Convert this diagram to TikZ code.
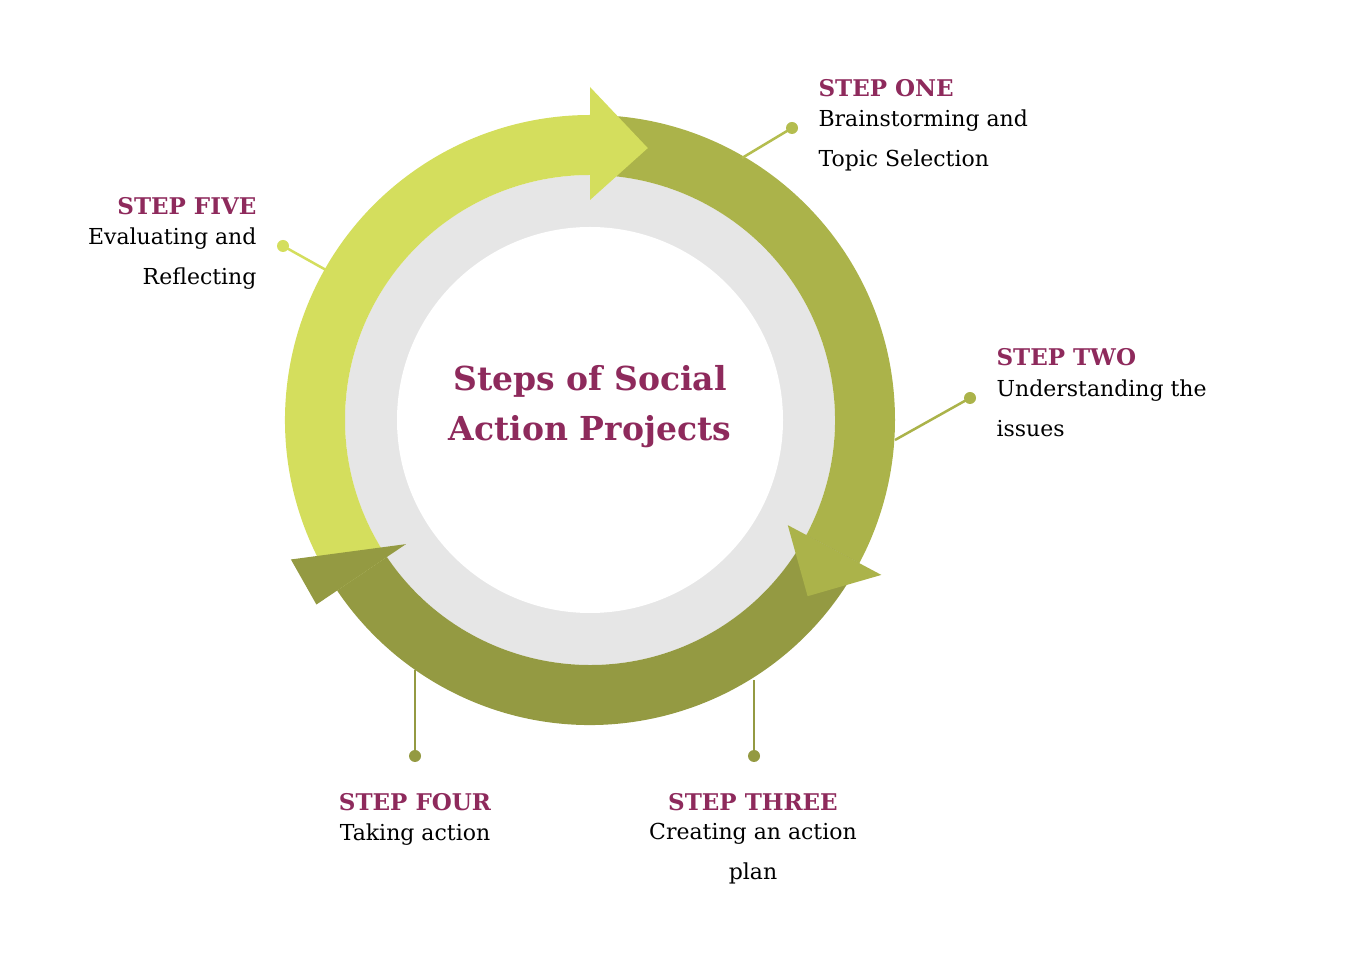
\documentclass[tikz,border=0pt]{standalone}
\usepackage{fontspec}
\setmainfont{DejaVu Serif}
\definecolor{cyel}{HTML}{D4DE5D}
\definecolor{coli}{HTML}{ABB34A}
\definecolor{cdrk}{HTML}{949A42}
\definecolor{cmar}{HTML}{8E2A5C}
\definecolor{cgry}{HTML}{E6E6E6}
\begin{document}
\begin{tikzpicture}[x=1pt,y=1pt,
  steptitle/.style={text=cmar,font=\fontsize{23}{26}\selectfont\bfseries},
  steptext/.style={font=\fontsize{22}{40}\selectfont},
  dotc/.style={circle,inner sep=0pt,minimum size=12pt},
  lead/.style={line width=2.5pt}]
\useasboundingbox (0,0) rectangle (1350,972);
\coordinate (c) at (590,552);
\def\ro{305}\def\ri{245}
% gray ring
\fill[cgry] (c) circle[radius=245];
\fill[white] (c) circle[radius=193];
% bodies
\fill[cyel] ([shift={(c)}]214:\ro) arc[start angle=214,end angle=90,radius=\ro] -- ([shift={(c)}]90:\ri) arc[start angle=90,end angle=214,radius=\ri] -- cycle;
\fill[coli] ([shift={(c)}]90:\ro) arc[start angle=90,end angle=-28,radius=\ro] -- ([shift={(c)}]-28:\ri) arc[start angle=-28,end angle=90,radius=\ri] -- cycle;
\fill[cdrk] ([shift={(c)}]-28:\ro) arc[start angle=-28,end angle=-146,radius=\ro] -- ([shift={(c)}]-146:\ri) arc[start angle=-146,end angle=-28,radius=\ri] -- cycle;
% heads
\fill[cyel] ([shift={(c)}]90:220) -- ([shift={(c)}]90:333) -- ([shift={(c)}]78:278) -- cycle;
\fill[coli] ([shift={(c)}]-28:224) -- ([shift={(c)}]-28:330) -- ([shift={(c)}]-39:280) -- cycle;
\fill[cdrk] ([shift={(c)}]-146:222) -- ([shift={(c)}]-146:330) -- ([shift={(c)}]-155:330) -- cycle;
% title
\node[text=cmar,font=\fontsize{33}{50}\selectfont\bfseries,align=center] (title) at (590,565) {Steps of Social\\Action Projects};
% leaders
\node[dotc,fill=cyel!85!black] (d1) at (792,844) {};
\coordinate (e1) at (742,814);
\draw[lead,cyel!85!black] (d1.center) -- (e1);
\node[dotc,fill=coli] (d2) at (970,574) {};
\coordinate (e2) at (895,532);
\draw[lead,coli] (d2.center) -- (e2);
\node[dotc,fill=cdrk] (d3) at (754,216) {};
\coordinate (e3) at (754,292);
\draw[lead,cdrk] (d3.center) -- (e3);
\node[dotc,fill=cdrk] (d4) at (415,216) {};
\coordinate (e4) at (415,302);
\draw[lead,cdrk] (d4.center) -- (e4);
\node[dotc,fill=cyel] (d5) at (283,726) {};
\coordinate (e5) at (326,702);
\draw[lead,cyel] (d5.center) -- (e5);
% texts
\node[steptitle,anchor=west] (t1) at (815,884) {STEP ONE};
\node[steptext,anchor=north west,align=left] (b1) at (815,866) {Brainstorming and\\Topic Selection};
\node[steptitle,anchor=west] (t2) at (993,615) {STEP TWO};
\node[steptext,anchor=north west,align=left] (b2) at (993,596) {Understanding the\\issues};
\node[steptitle] (t3) at (753,170) {STEP THREE};
\node[steptext,align=center,anchor=north] (b3) at (753,152) {Creating an action\\plan};
\node[steptitle] (t4) at (415,170) {STEP FOUR};
\node[steptext,align=center,anchor=north] (b4) at (415,152) {Taking action};
\node[steptitle,anchor=east] (t5) at (260,766) {STEP FIVE};
\node[steptext,anchor=north east,align=right] (b5) at (260,748) {Evaluating and\\Reflecting};
\end{tikzpicture}
\end{document}
